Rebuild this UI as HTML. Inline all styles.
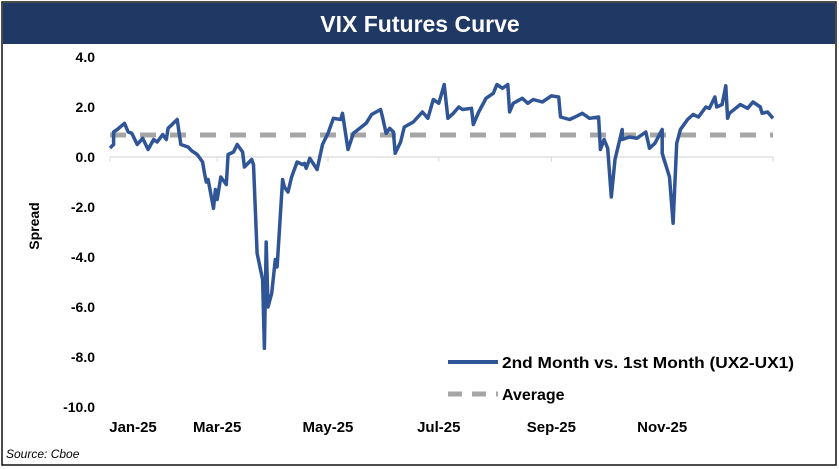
<!DOCTYPE html>
<html><head><meta charset="utf-8"><style>
body{margin:0;background:#fff;}
svg{display:block;font-family:"Liberation Sans",sans-serif;}
</style></head><body>
<svg id="chart" width="839" height="469" viewBox="0 0 839 469">
<rect x="2" y="2" width="834" height="463" fill="#fff" stroke="#111" stroke-width="1.5"/>
<rect x="3" y="3" width="832" height="41" fill="#203864"/>
<text x="420" y="32" text-anchor="middle" fill="#fff" font-size="23" font-weight="bold">VIX Futures Curve</text>
<text transform="translate(39,226) rotate(-90)" text-anchor="middle" font-size="14" font-weight="bold">Spread</text>
<g id="yticks"></g><g id="xaxis"></g>
<line id="avg" stroke="#a6a6a6" stroke-width="5" stroke-dasharray="16,14"/>
<path id="series" fill="none" stroke="#2f5597" stroke-width="3.5" stroke-linejoin="round"/>
<g>
<line x1="448" y1="362" x2="498" y2="362" stroke="#2f5597" stroke-width="4"/>
<text x="502" y="368" font-size="16" font-weight="bold" textLength="292" lengthAdjust="spacingAndGlyphs">2nd Month vs. 1st Month (UX2-UX1)</text>
<line x1="448" y1="394" x2="498" y2="394" stroke="#a6a6a6" stroke-width="5" stroke-dasharray="14,10"/>
<text x="502" y="400" font-size="16" font-weight="bold">Average</text>
</g>
<text x="6" y="458" font-size="12" font-style="italic">Source: Cboe</text>
</svg>
<script>
const dayList=[0,2,2,4,8,10,12,15,18,21,24,26,29,31,32,37,39,43,45,48,51,52,53,54,57,58,59,61,64,65,68,70,73,74,78,79,81,84,85,86,87,89,91,92,95,96,98,100,103,106,107,108,110,114,117,120,123,127,128,131,
134,141,144,149,150,152,154,156,157,160,162,167,172,175,178,181,184,186,189,192,194,199,200,203,207,211,213,216,219,220,222,227,230,233,238,243,247,248,253,256,260,264,269,270,272,274,276,278,282,282,286,290,295,297,300,304,304,308,310,312,314,318,321,324,328,330,333,334,337,339,340,341,347,351,354,358,359,362,365];
const spreadValues=[0.36,0.5,1.0,1.1,1.35,1.0,0.95,0.5,0.75,0.3,0.7,0.6,0.9,0.7,1.15,1.5,0.5,0.4,0.25,0.1,-0.2,-0.65,-1.0,-0.9,-2.05,-1.3,-1.7,-0.8,-1.1,0.1,0.2,0.5,0.2,-0.4,-0.1,-0.3,-3.85,-4.9,-7.65,-3.4,-6.0,-5.45,-4.1,-4.4,-0.9,-1.2,-1.4,-0.8,-0.2,-0.3,-0.25,-0.45,-0.05,-0.5,0.5,0.95,1.55,1.5,1.75,0.3,
0.95,1.35,1.7,1.9,1.6,0.95,1.15,1.0,0.15,0.6,1.2,1.4,1.8,1.55,2.3,2.15,2.9,1.55,1.75,2.0,1.9,1.95,1.3,1.8,2.35,2.55,2.9,2.75,2.9,1.8,2.15,2.35,2.15,2.3,2.2,2.45,2.4,1.6,1.5,1.6,1.75,1.55,1.6,0.3,0.7,0.35,-1.6,-0.1,1.1,0.7,0.8,0.75,1.0,0.35,0.55,1.1,0.15,-0.8,-2.65,0.55,1.1,1.5,1.7,1.6,2.0,1.95,2.4,2.0,2.1,2.85,1.55,1.75,2.1,1.95,2.2,2.0,1.75,1.8,1.55];
const averageValue=0.88;
const yTicks=[4,2,0,-2,-4,-6,-8,-10];
const xTickLabels=["Jan-25","Mar-25","May-25","Jul-25","Sep-25","Nov-25"];
const xTickDays=[0,59,120,181,243,304];
const xEndDay=365;
</script>
<script>
const NS="http://www.w3.org/2000/svg";
const X0=110,X1=773,Y0=157,PX=25;
const xs=d=>X0+d*(X1-X0)/xEndDay;
const ys=v=>Y0-v*PX;
const yg=document.getElementById('yticks');
yTicks.forEach(v=>{const t=document.createElementNS(NS,'text');
t.setAttribute('x',95);t.setAttribute('y',ys(v)+5);t.setAttribute('text-anchor','end');
t.setAttribute('font-size','14');t.setAttribute('font-weight','bold');t.textContent=v.toFixed(1);


yg.appendChild(t);});
const xg=document.getElementById('xaxis');
const ax=document.createElementNS(NS,'line');
ax.setAttribute('x1',X0);ax.setAttribute('x2',X1);ax.setAttribute('y1',Y0);ax.setAttribute('y2',Y0);ax.setAttribute('stroke','#d9d9d9');ax.setAttribute('stroke-width','1.2');


xg.appendChild(ax);
xTickDays.concat([xEndDay]).forEach(d=>{const l=document.createElementNS(NS,'line');
l.setAttribute('x1',xs(d));l.setAttribute('x2',xs(d));l.setAttribute('y1',Y0);l.setAttribute('y2',Y0+5);l.setAttribute('stroke','#d9d9d9');


xg.appendChild(l);});
xTickLabels.forEach((s,i)=>{const t=document.createElementNS(NS,'text');
t.setAttribute('x',xs(xTickDays[i])+(i==0?23:0));t.setAttribute('y',432);t.setAttribute('text-anchor','middle');
t.setAttribute('font-size','15');t.setAttribute('font-weight','bold');t.textContent=s;


xg.appendChild(t);});
const a=document.getElementById('avg');
a.setAttribute('x1',X0);a.setAttribute('x2',X1);a.setAttribute('y1',ys(averageValue));a.setAttribute('y2',ys(averageValue));
document.getElementById('series').setAttribute('d',spreadValues.map((v,i)=>(i?'L':'M')+xs(dayList[i]).toFixed(1)+','+ys(v).toFixed(1)).join(''));
</script>
</body></html>
